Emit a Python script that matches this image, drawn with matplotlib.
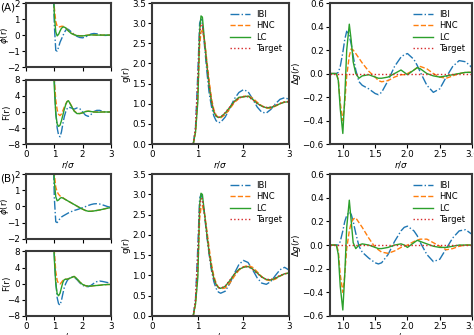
import matplotlib.pyplot as plt
import numpy as np

# ---- data ----
methods = ['IBI', 'HNC', 'LC', 'Target']
colors = ['#1f77b4', '#ff7f0e', '#2ca02c', '#d62728']
styles = ['-.', '--', '-', ':']

# g(r)
r_g = [0.90, 0.95, 1.00, 1.04, 1.07, 1.10, 1.15, 1.20, 1.25, 1.30, 1.35, 1.40, 1.45, 1.50,
       1.60, 1.70, 1.80, 1.90, 2.00, 2.10, 2.20, 2.30, 2.40, 2.50, 2.60, 2.70, 2.80, 2.90, 3.00]
gA_ibi = [0.00, 0.42, 1.75, 3.00, 3.10, 2.98, 2.40, 1.78, 1.25, 0.93, 0.70, 0.58, 0.53, 0.54,
          0.67, 0.89, 1.12, 1.28, 1.35, 1.30, 1.12, 0.92, 0.79, 0.77, 0.86, 1.00, 1.11, 1.15, 1.11]
gA_hnc = [0.00, 0.30, 1.15, 2.45, 2.78, 2.82, 2.55, 2.05, 1.55, 1.13, 0.86, 0.72, 0.66, 0.65,
          0.73, 0.87, 1.03, 1.13, 1.18, 1.20, 1.14, 1.04, 0.95, 0.89, 0.89, 0.94, 1.00, 1.05, 1.06]
gA_lc = [0.00, 0.30, 1.05, 2.80, 3.18, 3.15, 2.52, 1.95, 1.43, 1.04, 0.80, 0.69, 0.66, 0.67,
         0.77, 0.91, 1.06, 1.16, 1.17, 1.19, 1.11, 1.01, 0.94, 0.90, 0.91, 0.95, 1.00, 1.04, 1.05]
gA_tgt = [0.00, 0.40, 1.55, 2.70, 2.98, 2.95, 2.50, 1.95, 1.45, 1.06, 0.82, 0.70, 0.66, 0.67,
          0.78, 0.92, 1.05, 1.14, 1.18, 1.17, 1.10, 1.01, 0.94, 0.91, 0.92, 0.96, 1.01, 1.04, 1.05]
gB_ibi = [0.00, 0.42, 1.70, 2.90, 3.00, 2.90, 2.45, 1.95, 1.50, 1.12, 0.85, 0.68, 0.59, 0.56,
          0.61, 0.80, 1.05, 1.27, 1.37, 1.32, 1.14, 0.94, 0.81, 0.78, 0.85, 1.00, 1.14, 1.20, 1.13]
gB_hnc = [0.00, 0.30, 1.10, 2.40, 2.68, 2.72, 2.50, 2.10, 1.66, 1.28, 0.99, 0.81, 0.71, 0.67,
          0.69, 0.81, 0.98, 1.13, 1.21, 1.25, 1.20, 1.09, 0.97, 0.89, 0.87, 0.91, 0.98, 1.04, 1.06]
gB_lc = [0.00, 0.30, 0.95, 2.75, 3.03, 3.00, 2.50, 2.00, 1.55, 1.19, 0.93, 0.78, 0.70, 0.68,
         0.73, 0.87, 1.03, 1.15, 1.20, 1.22, 1.16, 1.06, 0.96, 0.90, 0.89, 0.93, 0.99, 1.04, 1.06]
gB_tgt = [0.00, 0.40, 1.50, 2.65, 2.90, 2.88, 2.50, 2.00, 1.55, 1.18, 0.92, 0.77, 0.70, 0.68,
          0.74, 0.88, 1.03, 1.15, 1.21, 1.22, 1.15, 1.05, 0.96, 0.90, 0.90, 0.94, 1.00, 1.04, 1.06]

# delta g(r)
r_dg = [0.80, 0.90, 0.93, 0.96, 1.00, 1.03, 1.06, 1.10, 1.13, 1.16, 1.20, 1.25, 1.30, 1.40, 1.50,
        1.55, 1.60, 1.70, 1.80, 1.90, 1.95, 2.00, 2.10, 2.15, 2.20, 2.30, 2.40, 2.50, 2.60, 2.70,
        2.80, 2.90, 3.00]
dgA_ibi = [0, 0, 0.01, 0.06, 0.18, 0.29, 0.36, 0.32, 0.25, 0.15, 0.03, -0.07, -0.10, -0.13, -0.17,
           -0.18, -0.16, -0.06, 0.06, 0.14, 0.16, 0.17, 0.12, 0.07, 0.01, -0.10, -0.16, -0.13, -0.03,
           0.06, 0.11, 0.10, 0.05]
dgA_hnc = [0, 0, -0.05, -0.25, -0.40, -0.25, -0.02, 0.15, 0.21, 0.20, 0.17, 0.13, 0.09, 0.02, -0.03,
           -0.06, -0.07, -0.06, -0.03, -0.01, -0.01, 0.00, 0.03, 0.05, 0.06, 0.04, 0.00, -0.03, -0.04,
           -0.02, 0.00, 0.01, 0.01]
dgA_lc = [0, 0, -0.06, -0.30, -0.51, -0.20, 0.20, 0.42, 0.28, 0.10, 0.00, -0.04, -0.02, -0.01, -0.03,
          -0.04, -0.04, -0.03, 0.00, 0.03, 0.01, -0.01, 0.03, 0.05, 0.04, 0.00, -0.02, -0.03, -0.02,
          -0.01, 0.00, 0.01, 0.01]
dgB_ibi = [0, 0, 0.00, 0.03, 0.12, 0.20, 0.25, 0.28, 0.26, 0.20, 0.10, -0.01, -0.06, -0.11, -0.15,
           -0.16, -0.15, -0.08, 0.03, 0.12, 0.15, 0.16, 0.12, 0.08, 0.02, -0.08, -0.14, -0.12, -0.03,
           0.06, 0.12, 0.13, 0.09]
dgB_hnc = [0, 0, -0.05, -0.25, -0.40, -0.25, -0.03, 0.12, 0.19, 0.22, 0.23, 0.19, 0.15, 0.06, -0.02,
           -0.04, -0.06, -0.07, -0.05, -0.02, -0.01, 0.00, 0.03, 0.04, 0.05, 0.05, 0.02, -0.01, -0.04,
           -0.03, -0.01, 0.00, 0.00]
dgB_lc = [0, 0, -0.08, -0.35, -0.55, -0.25, 0.15, 0.38, 0.20, 0.02, -0.03, 0.00, 0.01, 0.00, -0.02,
          -0.03, -0.03, -0.02, 0.00, 0.01, 0.00, -0.02, 0.02, 0.04, 0.03, 0.01, -0.01, -0.02, -0.02,
          -0.01, 0.00, 0.00, 0.00]
dg_tgt = [0.0] * len(r_dg)

# phi(r) and F(r)
r_pot = [0.95, 1.00, 1.05, 1.10, 1.15, 1.20, 1.25, 1.30, 1.35, 1.40, 1.45, 1.50, 1.60, 1.70,
         1.80, 1.90, 2.00, 2.10, 2.20, 2.30, 2.40, 2.50, 2.60, 2.70, 2.80, 2.90, 3.00]
phiA_ibi = [4.0, 0.6, -0.95, -1.0, -0.75, -0.45, -0.25, -0.05, 0.15, 0.30, 0.38, 0.35, 0.20, 0.05,
            -0.08, -0.15, -0.17, -0.12, -0.02, 0.07, 0.10, 0.08, 0.03, -0.01, -0.02, -0.01, 0.0]
phiA_hnc = [4.5, 1.7, 0.85, 0.55, 0.50, 0.52, 0.55, 0.55, 0.52, 0.45, 0.36, 0.27, 0.12, 0.03,
            -0.02, -0.04, -0.04, -0.02, 0.0, 0.01, 0.01, 0.0, 0.0, 0.0, 0.0, 0.0, 0.0]
phiA_lc = [4.0, 1.2, 0.2, -0.05, 0.05, 0.25, 0.42, 0.50, 0.50, 0.45, 0.35, 0.25, 0.10, 0.02,
           -0.03, -0.05, -0.05, -0.03, 0.0, 0.01, 0.01, 0.0, 0.0, 0.0, 0.0, 0.0, 0.0]
phiB_ibi = [4.0, 0.5, -0.95, -1.0, -0.88, -0.75, -0.66, -0.6, -0.55, -0.5, -0.45, -0.4, -0.32, -0.25,
            -0.2, -0.14, -0.08, -0.01, 0.06, 0.12, 0.16, 0.17, 0.15, 0.10, 0.04, -0.02, -0.05]
phiB_hnc = [4.5, 2.0, 1.2, 0.9, 0.75, 0.65, 0.60, 0.55, 0.48, 0.42, 0.37, 0.32, 0.22, 0.12,
            0.02, -0.08, -0.17, -0.25, -0.30, -0.30, -0.28, -0.25, -0.22, -0.18, -0.14, -0.10, -0.08]
phiB_lc = [4.0, 1.5, 0.6, 0.35, 0.40, 0.50, 0.55, 0.52, 0.47, 0.42, 0.37, 0.32, 0.22, 0.12,
           0.02, -0.08, -0.17, -0.25, -0.30, -0.30, -0.28, -0.25, -0.22, -0.18, -0.14, -0.10, -0.08]

FA_ibi = [15, 8.0, 0.0, -4.0, -5.8, -6.2, -5.0, -3.0, -1.2, 0.0, 0.8, 1.2, 1.0, 0.7,
          1.0, 0.8, 0.0, -0.8, -1.1, -0.6, 0.1, 0.4, 0.4, 0.2, 0.0, -0.05, 0.0]
FA_hnc = [16, 8.0, 3.0, 0.5, -0.6, -0.9, -0.5, 0.3, 1.2, 2.0, 2.6, 2.8, 1.6, 0.3,
          -0.3, -0.4, -0.2, 0.1, 0.2, 0.1, 0.0, 0.0, 0.0, 0.0, 0.0, 0.0, 0.0]
FA_lc = [15, 6.0, -0.5, -3.0, -3.6, -3.3, -2.2, -0.8, 0.6, 1.8, 2.6, 2.8, 1.5, 0.2,
         -0.4, -0.4, -0.2, 0.1, 0.2, 0.1, 0.0, -0.05, -0.05, 0.0, 0.0, 0.0, 0.0]
FB_ibi = [15, 7.0, 0.5, -3.5, -5.0, -5.3, -4.2, -2.5, -1.0, 0.0, 0.7, 1.2, 1.7, 1.6,
          1.0, 0.2, -0.4, -0.7, -0.75, -0.4, 0.1, 0.5, 0.65, 0.55, 0.4, 0.25, 0.15]
FB_hnc = [16, 8.0, 3.0, 0.8, 0.0, -0.1, 0.3, 0.8, 1.1, 1.1, 1.1, 1.2, 1.5, 1.8,
          1.2, 0.4, -0.2, -0.5, -0.6, -0.6, -0.5, -0.45, -0.4, -0.3, -0.25, -0.2, -0.2]
FB_lc = [15, 6.0, 0.0, -2.5, -3.0, -2.4, -1.0, 0.3, 1.0, 1.1, 1.1, 1.2, 1.5, 1.8,
         1.2, 0.4, -0.2, -0.5, -0.6, -0.6, -0.5, -0.45, -0.4, -0.3, -0.25, -0.2, -0.2]

plt.rcParams['font.size'] = 6.3
plt.rcParams['axes.linewidth'] = 1.5
plt.rcParams['axes.edgecolor'] = '#3a3a3a'
plt.rcParams['xtick.major.size'] = 3
plt.rcParams['ytick.major.size'] = 3
plt.rcParams['xtick.major.pad'] = 1.5
plt.rcParams['ytick.major.pad'] = 1.5

fig = plt.figure(figsize=(4.74, 3.35), dpi=100)


def draw(ax, r, series, lw=1.0):
    # draws IBI, HNC, LC (and Target when given)
    for ys, c, ls, name in zip(series, colors, styles, methods):
        ax.plot(r, ys, color=c, ls=ls, lw=lw, label=name)


def panel(base, g_set, dg_set, phi_set, F_set, tag):
    bot, top = base
    h = top - bot
    # phi(r)
    ax = fig.add_axes([0.055, bot + h * 0.545, 0.179, h * 0.455])
    draw(ax, r_pot, phi_set)
    ax.set_xlim(0, 3)
    ax.set_ylim(-2, 2)
    ax.set_yticks([-2, -1, 0, 1, 2])
    ax.set_xticks([0, 1, 2, 3])
    ax.set_xticklabels([])
    ax.set_ylabel(r'$\phi$(r)')
    ax.yaxis.set_label_coords(-0.18, 0.5)
    fig.text(0.0, top + 0.002, tag, fontsize=7.5, va='top')
    # F(r)
    ax = fig.add_axes([0.055, bot, 0.179, h * 0.455])
    draw(ax, r_pot, F_set)
    ax.set_xlim(0, 3)
    ax.set_ylim(-8, 8)
    ax.set_yticks([-8, -4, 0, 4, 8])
    ax.set_xticks([0, 1, 2, 3])
    ax.set_ylabel('F(r)')
    ax.yaxis.set_label_coords(-0.18, 0.5)
    ax.set_xlabel(r'$r/\sigma$', labelpad=0)
    # g(r)
    ax = fig.add_axes([0.321, bot, 0.289, h])
    draw(ax, r_g, g_set)
    ax.set_xlim(0, 3)
    ax.set_ylim(0, 3.5)
    ax.set_xticks([0, 1, 2, 3])
    ax.set_yticks(np.arange(0, 3.51, 0.5))
    ax.set_ylabel('g(r)', labelpad=1)
    ax.set_xlabel(r'$r/\sigma$', labelpad=0)
    ax.legend(frameon=False, fontsize=6, loc='upper right', handlelength=2.4,
              labelspacing=0.3, borderaxespad=0.4)
    # delta g(r)
    ax = fig.add_axes([0.696, bot, 0.300, h])
    draw(ax, r_dg, dg_set)
    ax.set_xlim(0.8, 3.0)
    ax.set_ylim(-0.6, 0.6)
    ax.set_xticks([1.0, 1.5, 2.0, 2.5, 3.0])
    ax.set_yticks(np.arange(-0.6, 0.61, 0.2))
    ax.set_ylabel(r'$\Delta g(r)$', labelpad=0)
    ax.set_xlabel(r'$r/\sigma$', labelpad=0)
    ax.legend(frameon=False, fontsize=6, loc='upper right', handlelength=2.4,
              labelspacing=0.3, borderaxespad=0.4)


panel((0.570, 0.991), [gA_ibi, gA_hnc, gA_lc, gA_tgt],
      [dgA_ibi, dgA_hnc, dgA_lc, dg_tgt],
      [phiA_ibi, phiA_hnc, phiA_lc], [FA_ibi, FA_hnc, FA_lc], '(A)')
panel((0.057, 0.480), [gB_ibi, gB_hnc, gB_lc, gB_tgt],
      [dgB_ibi, dgB_hnc, dgB_lc, dg_tgt],
      [phiB_ibi, phiB_hnc, phiB_lc], [FB_ibi, FB_hnc, FB_lc], '(B)')

fig.savefig('out.png', dpi=100)
